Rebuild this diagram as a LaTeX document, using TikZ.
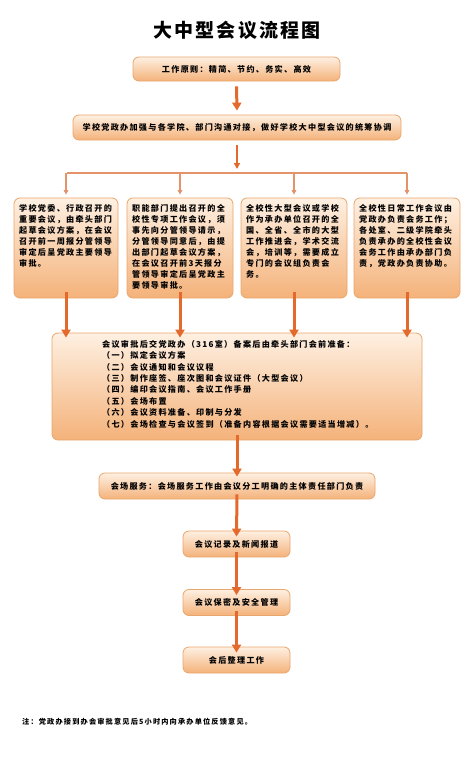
\documentclass[tikz,border=0pt]{standalone}
\usepackage{fontspec}
\usetikzlibrary{arrows.meta}
\newfontfamily\cjk[LetterSpace=16]{Noto Sans CJK SC}
\newfontfamily\cjktitle[LetterSpace=12]{Noto Sans CJK SC}
\definecolor{boxtop}{HTML}{FEF0E2}
\definecolor{boxbot}{HTML}{F4B27A}
\definecolor{boxline}{HTML}{E9A66C}
\definecolor{arrowor}{HTML}{E4692C}
\definecolor{lineor}{HTML}{E3926A}
\begin{document}
\begin{tikzpicture}[x=1pt,y=-1pt,
    flowbox/.style={draw=boxline,line width=0.8pt,rounded corners=6pt,
      top color=boxtop,bottom color=boxbot,inner sep=0pt,
      font=\cjk\bfseries\fontsize{8.1}{11}\selectfont},
    boxtext/.style={font=\cjk\bfseries\fontsize{8.1}{11}\selectfont,align=left,
      anchor=north west,inner sep=0pt},
    bigarrow/.style={draw=arrowor,line width=3pt,-{Triangle[width=9pt,length=8pt]}},
    midarrow/.style={draw=arrowor,line width=1.8pt,-{Triangle[width=6pt,length=6pt]}},
    thinarrow/.style={draw=lineor,line width=1.1pt,-{Triangle[width=4.5pt,length=4.5pt]}}]
  \useasboundingbox[fill=white] (0,0) rectangle (474,758);

  \node (title) at (237,30) {\cjktitle\bfseries\fontsize{19}{21}\selectfont 大中型会议流程图};

  \node[flowbox,minimum width=207pt,minimum height=24pt] (principle) at (236.5,69)
    {工作原则：精简、节约、务实、高效};
  \node[flowbox,minimum width=328pt,minimum height=25pt] (coord) at (237,127.5)
    {学校党政办加强与各学院、部门沟通对接，做好学校大中型会议的统筹协调};

  \draw[bigarrow] ([yshift=-5pt]principle.south) -- ([yshift=4pt]coord.north);
  \coordinate (split) at (237,173);
  \draw[midarrow] ([yshift=-5pt]coord.south) -- ([yshift=4pt]split);
  \draw[lineor,line width=1.1pt] (67,173) -- (407,173);

  % four kinds of meetings
  \node[flowbox,minimum width=104pt,minimum height=100pt] (partyA) at (66,248) {};
  \node[flowbox,minimum width=106pt,minimum height=100pt] (deptB) at (180,248) {};
  \node[flowbox,minimum width=106pt,minimum height=100pt] (largeC) at (294,248) {};
  \node[flowbox,minimum width=106pt,minimum height=100pt] (dailyD) at (407,248) {};

  \node[boxtext] (textA) at (19,204)
    {学校党委、行政召开的\\重要会议，由牵头部门\\起草会议方案，在会议\\召开前一周报分管领导\\审定后呈党政主要领导\\审批。};
  \node[boxtext] (textB) at (132,204)
    {职能部门提出召开的全\\校性专项工作会议，须\\事先向分管领导请示，\\分管领导同意后，由提\\出部门起草会议方案，\\在会议召开前3天报分\\管领导审定后呈党政主\\要领导审批。};
  \node[boxtext] (textC) at (246,204)
    {全校性大型会议或学校\\作为承办单位召开的全\\国、全省、全市的大型\\工作推进会，学术交流\\会，培训等，需要成立\\专门的会议组负责会\\务。};
  \node[boxtext] (textD) at (359,204)
    {全校性日常工作会议由\\党政办负责会务工作；\\各处室、二级学院牵头\\负责承办的全校性会议\\会务工作由承办部门负\\责，党政办负责协助。};

  \foreach \b in {partyA,deptB,largeC,dailyD}{
    \draw[thinarrow] (\b.north |- split) -- ([yshift=3pt]\b.north);
  }

  \node[flowbox,minimum width=370pt,minimum height=107pt] (prepare) at (237,386.5) {};
  \node[boxtext,font=\cjk\bfseries\fontsize{8.1}{11.4}\selectfont] (preptext) at (102,340)
    {会议审批后交党政办（316室）备案后由牵头部门会前准备：\\
     （一）拟定会议方案\\
     （二）会议通知和会议议程\\
     （三）制作座签、座次图和会议证件（大型会议）\\
     （四）编印会议指南、会议工作手册\\
     （五）会场布置\\
     （六）会议资料准备、印制与分发\\
     （七）会场检查与会议签到（准备内容根据会议需要适当增减）。};

  \foreach \b in {partyA,deptB,largeC,dailyD}{
    \draw[bigarrow] ([yshift=6pt]\b.south) -- ([yshift=-5pt]\b.south |- prepare.north);
  }

  \node[flowbox,minimum width=276pt,minimum height=26pt] (service) at (237,486)
    {会场服务：会场服务工作由会议分工明确的主体责任部门负责};
  \node[flowbox,minimum width=107pt,minimum height=26pt] (record) at (236.5,544)
    {会议记录及新闻报道};
  \node[flowbox,minimum width=107pt,minimum height=26pt] (secret) at (236.5,602.5)
    {会议保密及安全管理};
  \node[flowbox,minimum width=107pt,minimum height=26pt] (after) at (236.5,660)
    {会后整理工作};

  \draw[bigarrow] ([yshift=5pt]prepare.south) -- ([yshift=-4pt]service.north);
  \draw[bigarrow] ([yshift=5pt]service.south) -- ([yshift=-6pt]record.north);
  \draw[bigarrow] ([yshift=5pt]record.south) -- ([yshift=-6pt]secret.north);
  \draw[bigarrow] ([yshift=5pt]secret.south) -- ([yshift=-6pt]after.north);

  \node[font=\cjk\bfseries\fontsize{7.2}{8}\selectfont,anchor=west,inner sep=0pt] (note) at (22,722)
    {注：党政办接到办会审批意见后5小时内向承办单位反馈意见。};
\end{tikzpicture}
\end{document}
